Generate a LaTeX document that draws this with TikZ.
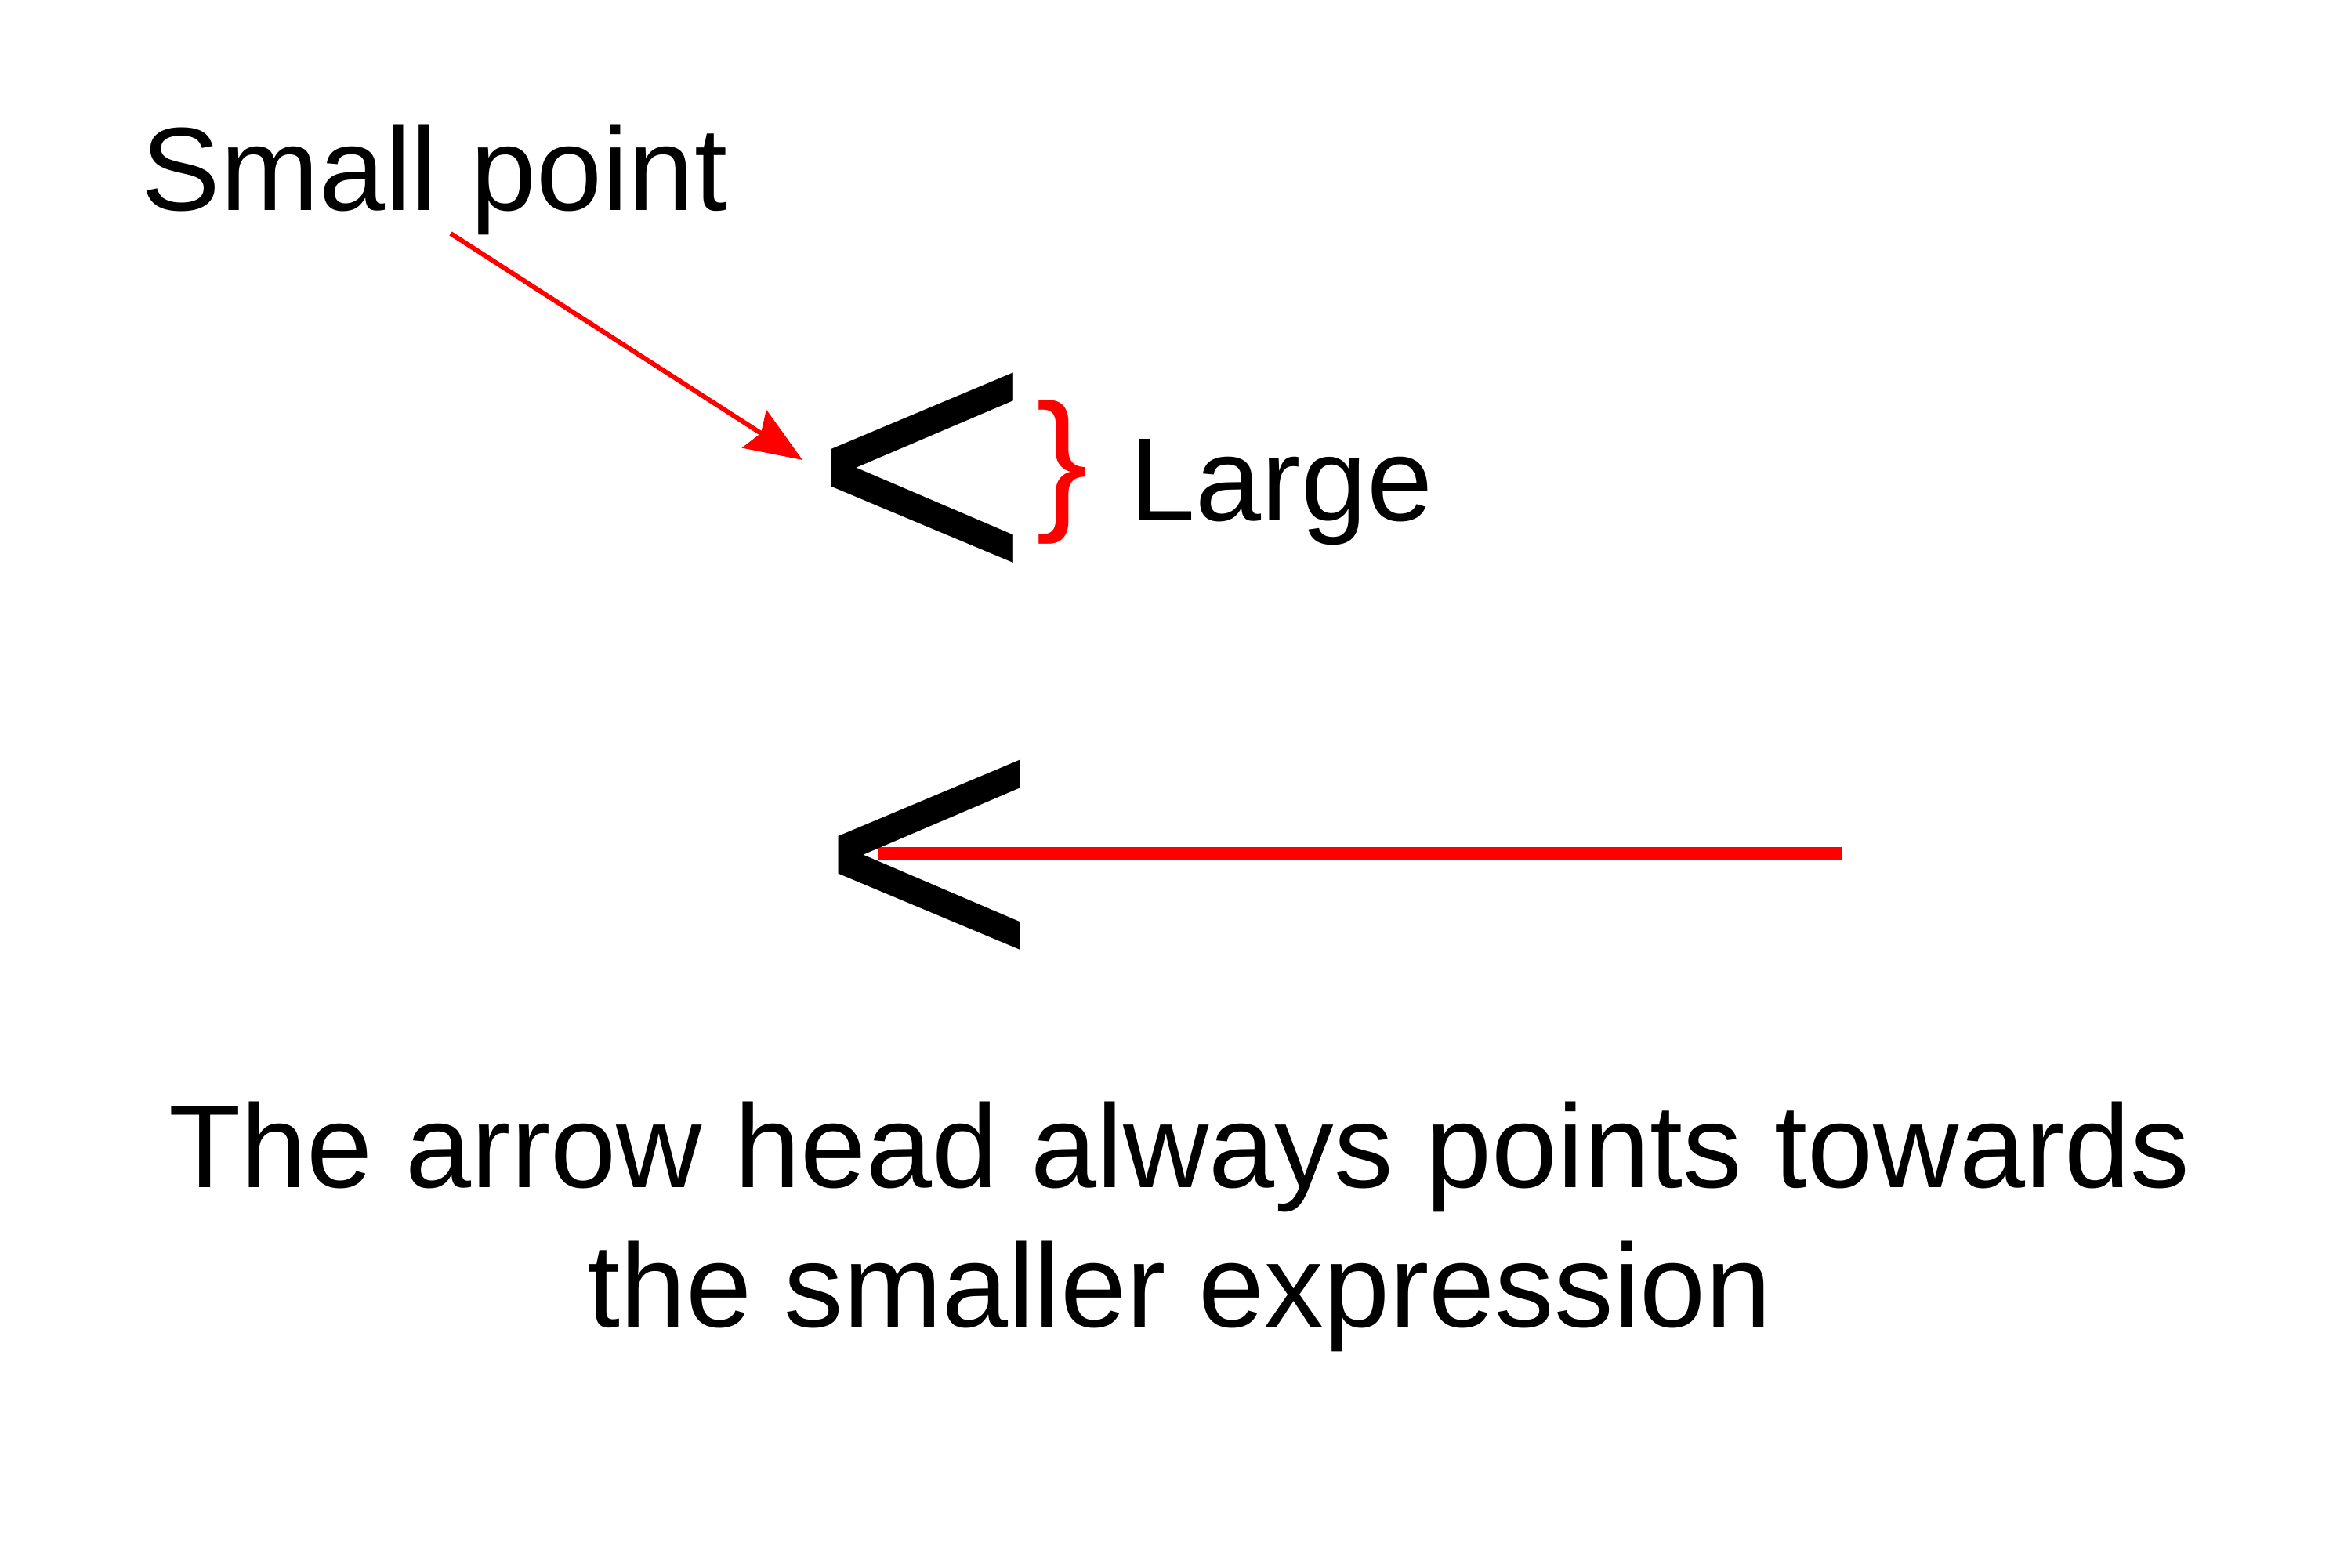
\documentclass[tikz,border=0pt]{standalone}
\usepackage{fontspec}
\setmainfont{Liberation Sans}
\usetikzlibrary{arrows.meta,positioning}

\begin{document}
\begin{tikzpicture}[
  txt/.style={inner sep=0pt,font=\fontsize{43}{50.4}\selectfont},
  sign/.style={inner sep=0pt,font=\fontsize{136}{136}\selectfont},
  pointer/.style={red,line width=1.7pt,-{Stealth[length=7.3mm,width=5.7mm,inset=1mm]}}
]
\useasboundingbox (0,0) rectangle (30,20);
% top: small end of the sign
\node[txt,anchor=base west] (small) at (1.80,17.31) {Small point};
\node[sign] (lt1) at (11.77,13.85) {<};
\node[red,inner sep=0pt,font=\fontsize{56}{56}\selectfont] (brace) at (13.55,13.97) {\}};
\node[txt,anchor=base west] (large) at (14.41,13.35) {Large};
\coordinate (from) at (5.75,17.02);
\coordinate (tip) at (10.24,14.13);
\draw[pointer] (from) -- (tip);
% middle: sign as arrow head
\coordinate (tail) at (23.50,9.11);
\coordinate (vertex) at (11.20,9.11);
\draw[red,line width=4.3pt] (tail) -- (vertex);
\node[sign] (lt2) at (11.86,8.91) {<};
% bottom
\node[txt,align=center,anchor=base] (rule) at (15.05,3.07) {The arrow head always points towards\\the smaller expression};
\end{tikzpicture}
\end{document}
